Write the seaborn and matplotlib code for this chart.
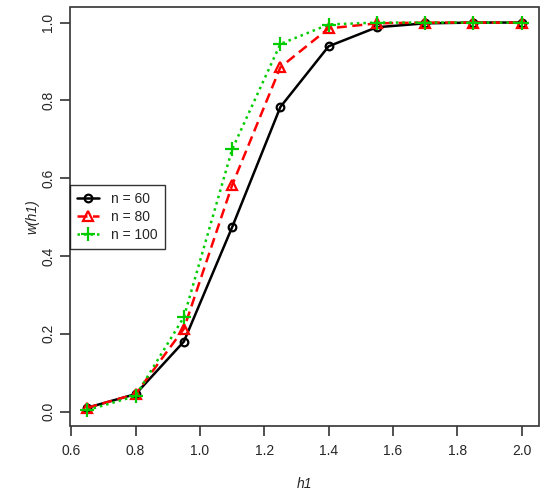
import matplotlib
matplotlib.use('Agg')
import matplotlib.pyplot as plt
from matplotlib.patches import Rectangle
import seaborn as sns
import pandas as pd

h1 = [0.65, 0.8, 0.95, 1.1, 1.25, 1.4, 1.55, 1.7, 1.85, 2.0]
w_n60 = [0.010, 0.045, 0.180, 0.474, 0.783, 0.939, 0.988, 0.998, 1.000, 1.000]
w_n80 = [0.010, 0.045, 0.213, 0.582, 0.885, 0.985, 0.998, 1.000, 1.000, 1.000]
w_n100 = [0.004, 0.040, 0.243, 0.674, 0.945, 0.995, 1.000, 1.000, 1.000, 1.000]
series_labels = ['n = 60', 'n = 80', 'n = 100']

sns.set_style('white')
plt.rcParams['font.family'] = ['Liberation Sans', 'DejaVu Sans']

fig = plt.figure(figsize=(5.5, 4.95), dpi=100)
ax = fig.add_axes([70 / 550, 69 / 495, 469 / 550, 419 / 495])

estilos = [
    (w_n60, 'black', '-', 'o', 5.5),
    (w_n80, 'red', (0, (4, 2.2)), '^', 7),
    (w_n100, '#00CC00', (0, (1, 1.6)), '+', 10),
]
for (vals, col, ls, mk, ms), lab in zip(estilos, series_labels):
    df = pd.DataFrame({'h1': h1, 'w': vals})
    sns.lineplot(x='h1', y='w', data=df, ax=ax, color=col, linestyle=ls,
                 marker=mk, markersize=ms,
                 markerfacecolor='none', markeredgecolor=col,
                 markeredgewidth=1.6, linewidth=1.8, label=lab)

ax.set_xlim(0.596, 2.054)
ax.set_ylim(-0.037, 1.04)

# estilo R: recuadro completo y solo las marcas hacia fuera
for s in ['top', 'right', 'bottom', 'left']:
    ax.spines[s].set_visible(False)
ax.add_patch(Rectangle((0, 0), 1, 1, transform=ax.transAxes, fill=False,
                       edgecolor='#333333', linewidth=1.2, clip_on=False))

ax.set_xticks([0.6, 0.8, 1.0, 1.2, 1.4, 1.6, 1.8, 2.0])
ax.set_yticks([0.0, 0.2, 0.4, 0.6, 0.8, 1.0])
ax.set_xticklabels(['0.6', '0.8', '1.0', '1.2', '1.4', '1.6', '1.8', '2.0'])
ax.set_yticklabels(['0.0', '0.2', '0.4', '0.6', '0.8', '1.0'], rotation=90, va='center')
ax.tick_params(axis='both', direction='out', length=7, width=1.2, color='#333333',
               labelsize=10, bottom=True, left=True, pad=6)
ax.tick_params(axis='y', labelrotation=90, pad=3.5)

ax.set_xlabel('h1', fontstyle='italic', fontsize=10, labelpad=14)
ax.set_ylabel('w(h1)', fontstyle='italic', fontsize=10, labelpad=1.5)

leg = ax.legend(loc='center left', bbox_to_anchor=(0.0, 0.499), frameon=True,
                fancybox=False, edgecolor='black', fontsize=10, handlelength=1.6,
                handletextpad=0.85, borderpad=0.5, labelspacing=0.3,
                borderaxespad=0.0)
leg.get_frame().set_linewidth(1.0)

fig.savefig('out.png', dpi=100)
